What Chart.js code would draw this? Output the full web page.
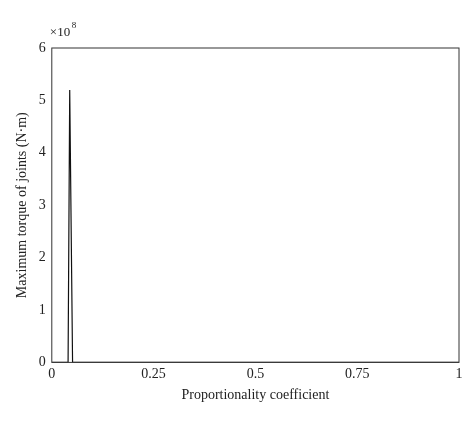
<!DOCTYPE html><html><head><script src="https://cdn.jsdelivr.net/npm/chart.js@4"></script>
<style>body{margin:0;background:#fff}#w{width:474px;height:428px}</style></head><body><div id="w"><canvas id="c"></canvas></div>
<script>
const xValues=[0,0.04,0.044,0.051,1];
const yValues=[0,0,5.2,0,0];
const xTicks=[0,0.25,0.5,0.75,1];
const yTicks=[0,1,2,3,4,5,6];
const font={family:'"Liberation Serif", serif',size:14};
const frame={id:'frame',afterDraw(ch){const a=ch.chartArea,c=ch.ctx;c.save();c.strokeStyle='#333';c.lineWidth=1;c.strokeRect(a.left,a.top,a.right-a.left,a.bottom-a.top);
c.fillStyle='#222';c.font='13px "Liberation Serif", serif';c.fillText('×10',a.left-2,a.top-26+14);c.font='9px "Liberation Serif", serif';c.fillText('8',a.left+20,a.top-20);c.restore();}};
new Chart(document.getElementById('c'),{type:'line',data:{datasets:[{data:xValues.map((x,i)=>({x,y:yValues[i]})),borderColor:'#111',borderWidth:1.2,pointRadius:0,tension:0}]},
options:{responsive:true,maintainAspectRatio:false,animation:false,layout:{padding:{left:10,right:15,top:48,bottom:20}},
plugins:{legend:{display:false},tooltip:{enabled:false}},
scales:{x:{type:'linear',min:0,max:1,afterBuildTicks:s=>{s.ticks=xTicks.map(v=>({value:v}))},grid:{display:false,drawTicks:false},border:{display:false},ticks:{color:'#222',font,padding:4,callback:v=>String(v)},title:{display:true,text:'Proportionality coefficient',color:'#222',font,padding:{top:0}}},
y:{min:0,max:6,afterBuildTicks:s=>{s.ticks=yTicks.map(v=>({value:v}))},grid:{display:false,drawTicks:false},border:{display:false},ticks:{color:'#222',font,padding:6},title:{display:true,text:'Maximum torque of joints (N·m)',color:'#222',font,padding:{bottom:2}}}}},plugins:[frame]});
</script></body></html>
